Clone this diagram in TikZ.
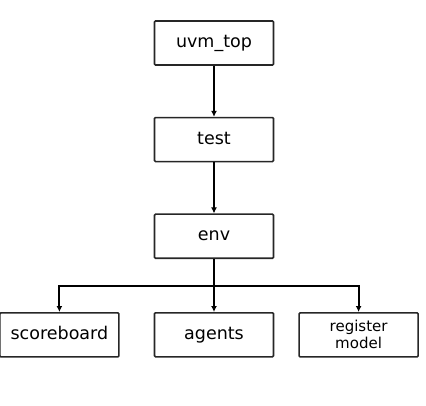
\documentclass[tikz,border=0pt]{standalone}
\usepackage{fontspec}
\setmainfont{DejaVu Sans}
\usepackage{tikz}
\usetikzlibrary{positioning, arrows.meta, calc}

\begin{document}
\begin{tikzpicture}[x=1pt, y=1pt,
    box/.style={draw=black!85, line width=1.6pt, rectangle, rounded corners=1pt, minimum width=119pt, minimum height=44pt, inner sep=2pt, text=black},
    block/.style={box, text height=13pt, text depth=3.5pt, font=\fontsize{17.5}{20}\selectfont},
    smallblock/.style={box, align=center, font=\fontsize{15}{17}\selectfont},
    edge/.style={line width=2pt, draw=black, -{Latex[length=6pt, width=6pt]}}
]
\useasboundingbox (0,0) rectangle (426,405);

% Knoten
\node[block] (top) at (214,362) {uvm\_top};
\node[block, below=51pt of top] (test) {test};
\node[block, below=51pt of test] (env) {env};
\node[block, below=53pt of env] (agents) {agents};
\node[block, left=34pt of agents] (sb) {scoreboard};
\node[smallblock, right=24pt of agents] (reg) {register\\model};
\coordinate (split) at ($(env.south)!0.5!(agents.north)$);

% Kanten zwischen Knoten
\draw[edge] (top) -- (test);
\draw[edge] (test) -- (env);
\draw[edge] (env) -- (agents);
\draw[edge, -] (env.south) -- (split);
\draw[edge] (split) -| (sb.north);
\draw[edge] (split) -| (reg.north);

\end{tikzpicture}
\end{document}
